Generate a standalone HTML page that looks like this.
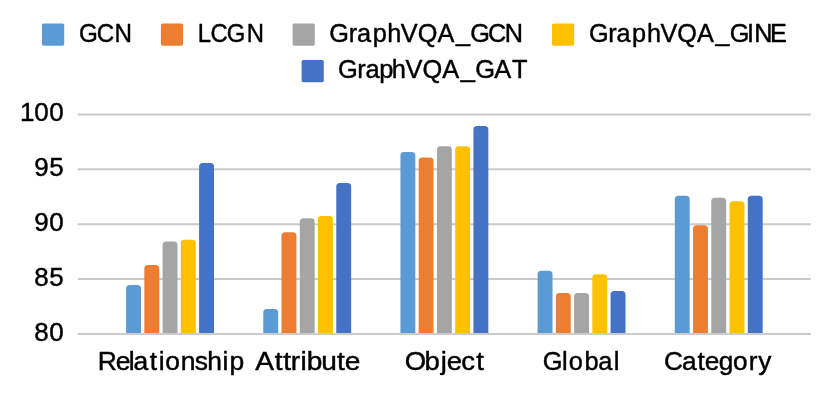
<!DOCTYPE html>
<html><head><meta charset="utf-8"><title>chart</title>
<style>
html,body{margin:0;padding:0;background:#fff;}
body{width:830px;height:397px;overflow:hidden;}
svg{display:block;}
text{font-family:"Liberation Sans",sans-serif;font-size:26.5px;fill:#000;stroke:#000;stroke-width:0.45px;stroke-linejoin:round;}
</style></head><body>
<svg width="830" height="397" viewBox="0 0 830 397">
<rect width="830" height="397" fill="#fff"/>
<line x1="77.7" x2="810.9" y1="114.43" y2="114.43" stroke="#CBCBCB" stroke-width="2"/>
<line x1="77.7" x2="810.9" y1="169.31" y2="169.31" stroke="#CBCBCB" stroke-width="2"/>
<line x1="77.7" x2="810.9" y1="224.19" y2="224.19" stroke="#CBCBCB" stroke-width="2"/>
<line x1="77.7" x2="810.9" y1="279.07" y2="279.07" stroke="#CBCBCB" stroke-width="2"/>
<path d="M126.10 333.4V288.65A3.6 3.6 0 0 1 129.70 285.05H137.40A3.6 3.6 0 0 1 141.00 288.65V333.4Z" fill="#5B9BD5"/>
<path d="M144.35 333.4V268.55A3.6 3.6 0 0 1 147.95 264.95H155.65A3.6 3.6 0 0 1 159.25 268.55V333.4Z" fill="#ED7D31"/>
<path d="M162.60 333.4V245.15A3.6 3.6 0 0 1 166.20 241.55H173.90A3.6 3.6 0 0 1 177.50 245.15V333.4Z" fill="#A5A5A5"/>
<path d="M180.85 333.4V243.25A3.6 3.6 0 0 1 184.45 239.65H192.15A3.6 3.6 0 0 1 195.75 243.25V333.4Z" fill="#FFC000"/>
<path d="M199.10 333.4V166.55A3.6 3.6 0 0 1 202.70 162.95H210.40A3.6 3.6 0 0 1 214.00 166.55V333.4Z" fill="#4472C4"/>
<path d="M263.27 333.4V312.55A3.6 3.6 0 0 1 266.87 308.95H274.57A3.6 3.6 0 0 1 278.17 312.55V333.4Z" fill="#5B9BD5"/>
<path d="M281.52 333.4V235.95A3.6 3.6 0 0 1 285.12 232.35H292.82A3.6 3.6 0 0 1 296.42 235.95V333.4Z" fill="#ED7D31"/>
<path d="M299.77 333.4V221.85A3.6 3.6 0 0 1 303.37 218.25H311.07A3.6 3.6 0 0 1 314.67 221.85V333.4Z" fill="#A5A5A5"/>
<path d="M318.02 333.4V219.55A3.6 3.6 0 0 1 321.62 215.95H329.32A3.6 3.6 0 0 1 332.92 219.55V333.4Z" fill="#FFC000"/>
<path d="M336.27 333.4V186.65A3.6 3.6 0 0 1 339.87 183.05H347.57A3.6 3.6 0 0 1 351.17 186.65V333.4Z" fill="#4472C4"/>
<path d="M400.44 333.4V155.55A3.6 3.6 0 0 1 404.04 151.95H411.74A3.6 3.6 0 0 1 415.34 155.55V333.4Z" fill="#5B9BD5"/>
<path d="M418.69 333.4V161.05A3.6 3.6 0 0 1 422.29 157.45H429.99A3.6 3.6 0 0 1 433.59 161.05V333.4Z" fill="#ED7D31"/>
<path d="M436.94 333.4V149.95A3.6 3.6 0 0 1 440.54 146.35H448.24A3.6 3.6 0 0 1 451.84 149.95V333.4Z" fill="#A5A5A5"/>
<path d="M455.19 333.4V149.95A3.6 3.6 0 0 1 458.79 146.35H466.49A3.6 3.6 0 0 1 470.09 149.95V333.4Z" fill="#FFC000"/>
<path d="M473.44 333.4V129.65A3.6 3.6 0 0 1 477.04 126.05H484.74A3.6 3.6 0 0 1 488.34 129.65V333.4Z" fill="#4472C4"/>
<path d="M537.61 333.4V274.35A3.6 3.6 0 0 1 541.21 270.75H548.91A3.6 3.6 0 0 1 552.51 274.35V333.4Z" fill="#5B9BD5"/>
<path d="M555.86 333.4V296.55A3.6 3.6 0 0 1 559.46 292.95H567.16A3.6 3.6 0 0 1 570.76 296.55V333.4Z" fill="#ED7D31"/>
<path d="M574.11 333.4V296.55A3.6 3.6 0 0 1 577.71 292.95H585.41A3.6 3.6 0 0 1 589.01 296.55V333.4Z" fill="#A5A5A5"/>
<path d="M592.36 333.4V277.95A3.6 3.6 0 0 1 595.96 274.35H603.66A3.6 3.6 0 0 1 607.26 277.95V333.4Z" fill="#FFC000"/>
<path d="M610.61 333.4V294.65A3.6 3.6 0 0 1 614.21 291.05H621.91A3.6 3.6 0 0 1 625.51 294.65V333.4Z" fill="#4472C4"/>
<path d="M674.78 333.4V199.25A3.6 3.6 0 0 1 678.38 195.65H686.08A3.6 3.6 0 0 1 689.68 199.25V333.4Z" fill="#5B9BD5"/>
<path d="M693.03 333.4V228.75A3.6 3.6 0 0 1 696.63 225.15H704.33A3.6 3.6 0 0 1 707.93 228.75V333.4Z" fill="#ED7D31"/>
<path d="M711.28 333.4V201.35A3.6 3.6 0 0 1 714.88 197.75H722.58A3.6 3.6 0 0 1 726.18 201.35V333.4Z" fill="#A5A5A5"/>
<path d="M729.53 333.4V204.75A3.6 3.6 0 0 1 733.13 201.15H740.83A3.6 3.6 0 0 1 744.43 204.75V333.4Z" fill="#FFC000"/>
<path d="M747.78 333.4V199.25A3.6 3.6 0 0 1 751.38 195.65H759.08A3.6 3.6 0 0 1 762.68 199.25V333.4Z" fill="#4472C4"/>
<line x1="77.7" x2="810.9" y1="333.95" y2="333.95" stroke="#CBCBCB" stroke-width="2"/>
<rect x="42.0" y="23.5" width="22.2" height="22.2" rx="1.6" fill="#5B9BD5"/>
<rect x="160.9" y="23.5" width="22.2" height="22.2" rx="1.6" fill="#ED7D31"/>
<rect x="292.6" y="23.5" width="22.2" height="22.2" rx="1.6" fill="#A5A5A5"/>
<rect x="552.0" y="23.5" width="22.2" height="22.2" rx="1.6" fill="#FFC000"/>
<rect x="301.6" y="60.0" width="22.2" height="22.2" rx="1.6" fill="#4472C4"/>
<text transform="scale(0.9800,1)" x="20.33 34.85 50.17" y="121.2">100</text>
<text transform="scale(0.9800,1)" x="34.88 50.25" y="176.1">95</text>
<text transform="scale(0.9800,1)" x="34.88 50.17" y="230.9">90</text>
<text transform="scale(0.9800,1)" x="34.97 50.25" y="285.8">85</text>
<text transform="scale(0.9800,1)" x="34.97 50.17" y="340.7">80</text>
<text transform="scale(0.9971,1)" x="98.02 116.10 129.18 133.85 150.14 159.20 165.81 181.24 195.36 207.92 223.26 230.19" y="369.8">Relationship</text>
<text transform="scale(1.0600,1)" x="240.70 259.15 267.14 274.21 283.46 289.30 303.11 318.04 325.31" y="369.8">Attribute</text>
<text transform="scale(1.0391,1)" x="389.46 408.65 424.18 430.03 443.82 458.33" y="369.8">Object</text>
<text transform="scale(0.9593,1)" x="565.76 585.79 592.95 609.27 623.52 639.80" y="369.8">Global</text>
<text transform="scale(0.9897,1)" x="670.80 689.11 704.76 712.10 726.23 740.58 756.58 766.25" y="369.8">Category</text>
<text transform="scale(0.9137,1)" x="86.33 105.82 125.41" y="41.8">GCN</text>
<text transform="scale(0.9004,1)" x="219.73 233.68 251.92 274.01" y="41.8">LCGN</text>
<text transform="scale(0.9553,1)" x="344.62 365.00 373.78 390.20 405.33 419.59 437.24 457.90 477.27 492.33 510.97 528.27" y="41.8 41.8 41.8 41.8 41.8 41.8 41.8 41.8 40.6 41.8 41.8 41.8">GraphVQA_GCN</text>
<text transform="scale(0.9523,1)" x="618.41 638.64 647.36 663.67 679.35 693.61 711.27 731.93 751.31 766.37 784.38 792.11 808.49" y="41.8 41.8 41.8 41.8 41.8 41.8 41.8 41.8 40.6 41.8 41.8 41.8 41.8">GraphVQA_GINE</text>
<text transform="scale(0.9589,1)" x="352.62 372.53 381.13 395.51 408.65 422.89 440.55 461.19 480.56 495.61 515.54 533.91" y="78.3 78.3 78.3 78.3 78.3 78.3 78.3 78.3 77.1 78.3 78.3 78.3">GraphVQA_GAT</text>
</svg>
</body></html>
